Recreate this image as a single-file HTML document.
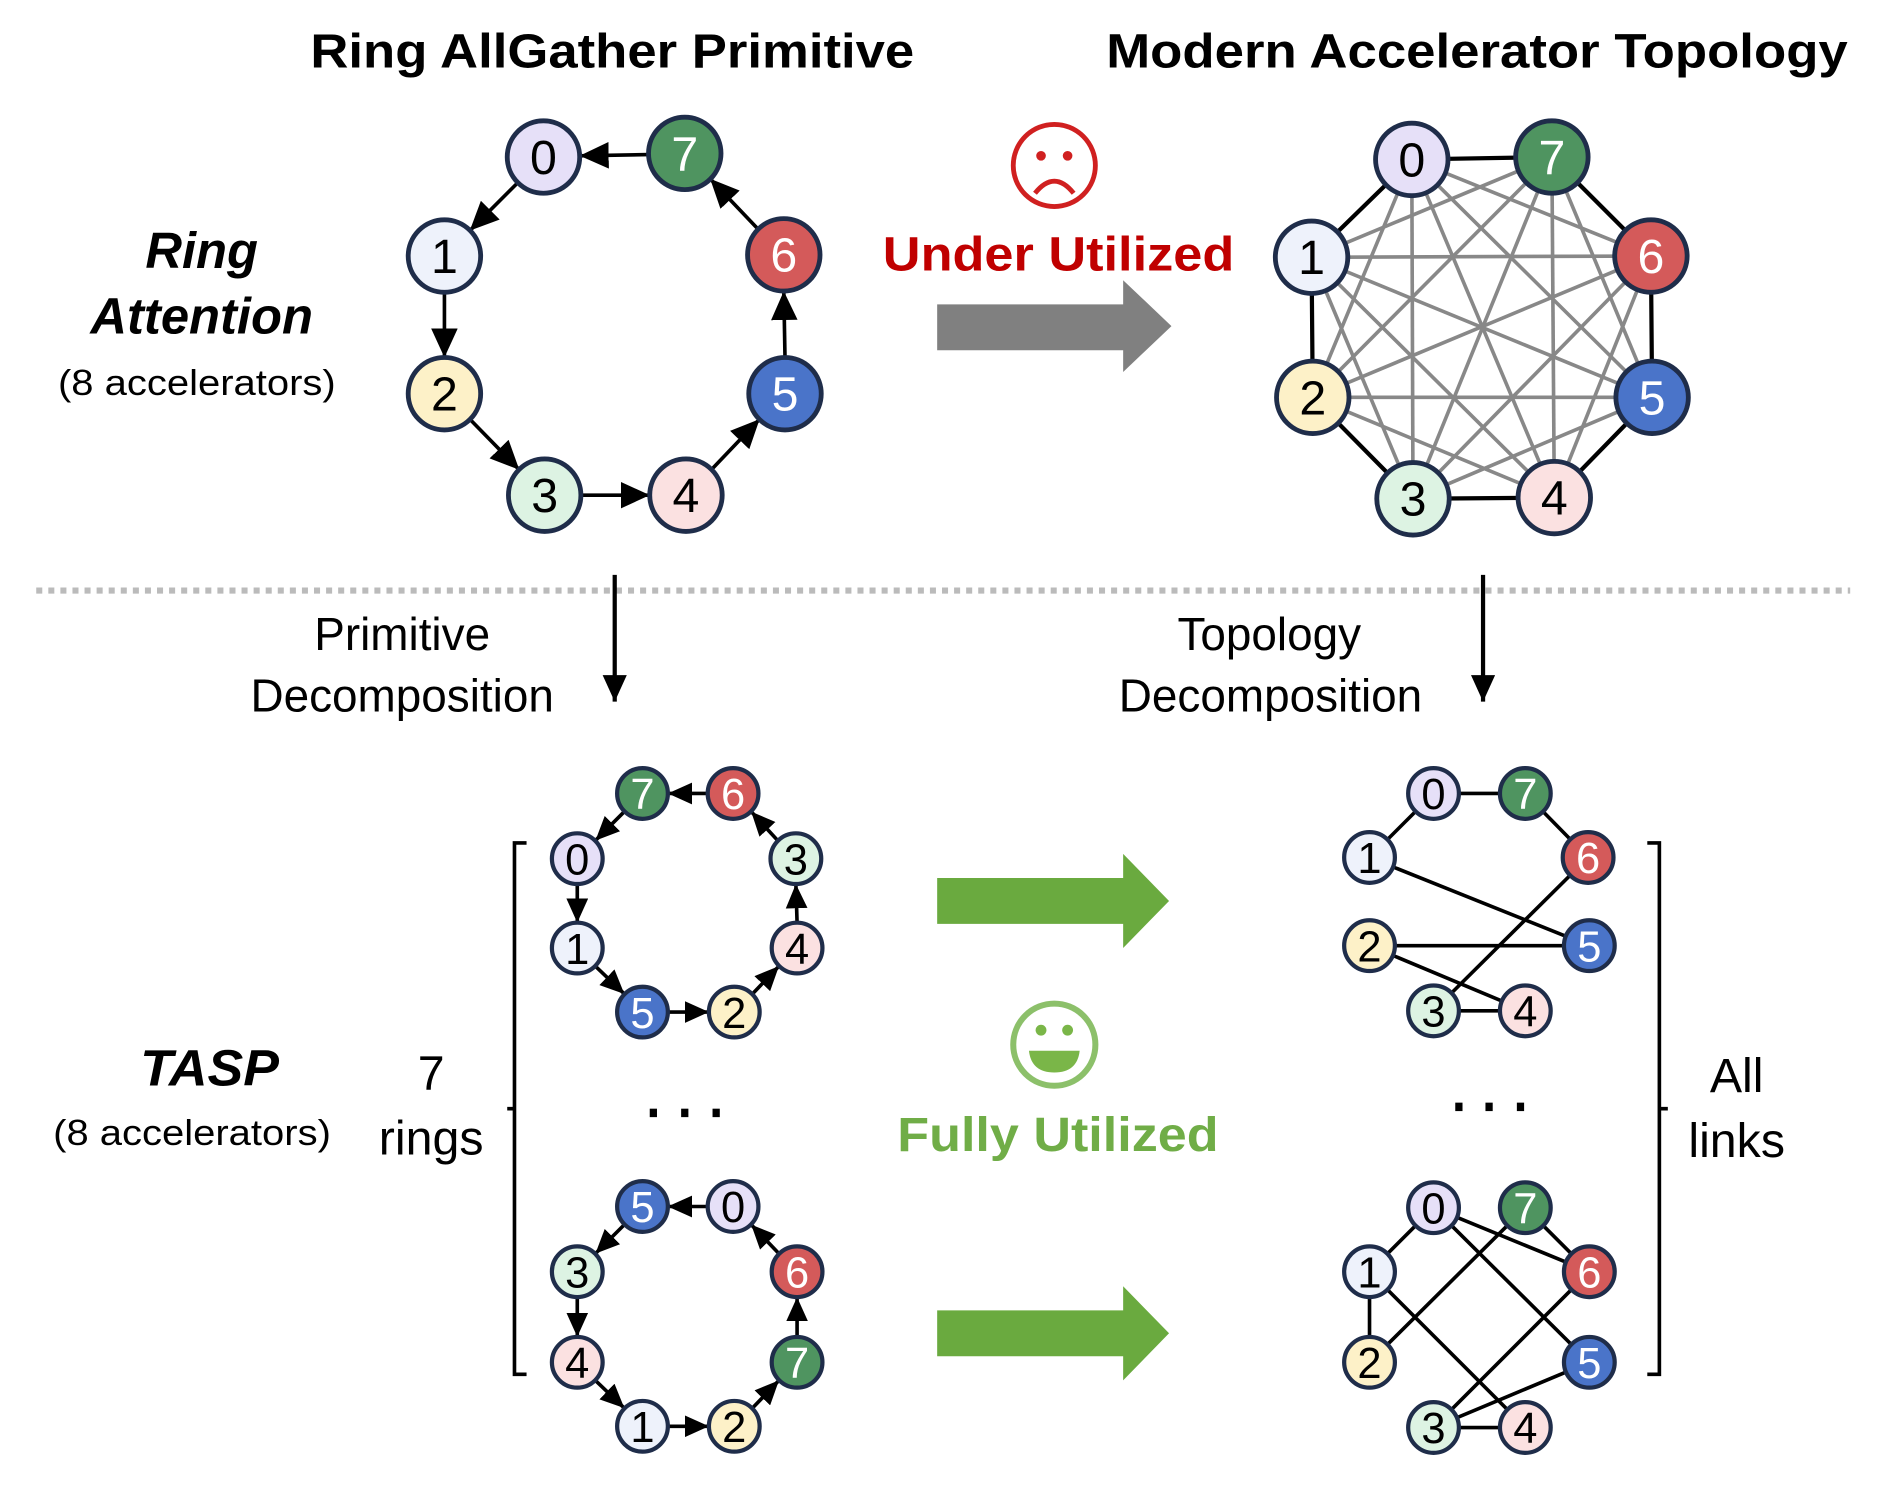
<!DOCTYPE html>
<html><head><meta charset="utf-8"><style>html,body{margin:0;padding:0;background:#fff}svg{display:block}</style></head>
<body>
<svg xmlns="http://www.w3.org/2000/svg" width="1884" height="1496" viewBox="0 0 1560 1238.7" font-family="Liberation Sans, Arial, sans-serif">
<defs>
<marker id="ab" markerUnits="userSpaceOnUse" markerWidth="24" markerHeight="22" refX="24" refY="11" orient="auto"><path d="M0,0 L24,11 L0,22 z" fill="#000"/></marker>
<marker id="as" markerUnits="userSpaceOnUse" markerWidth="20" markerHeight="18" refX="20" refY="9" orient="auto"><path d="M0,0 L20,9 L0,18 z" fill="#000"/></marker>
<marker id="ad" markerUnits="userSpaceOnUse" markerWidth="22" markerHeight="20" refX="22" refY="10" orient="auto"><path d="M0,0 L22,10 L0,20 z" fill="#000"/></marker>
</defs>
<rect width="1560" height="1239" fill="#fff"/>

<text x="257" y="56" font-size="40" font-weight="bold" textLength="500" lengthAdjust="spacingAndGlyphs">Ring AllGather Primitive</text>
<text x="916" y="56" font-size="40" font-weight="bold" textLength="614" lengthAdjust="spacingAndGlyphs">Modern Accelerator Topology</text>

<text x="167" y="222" font-size="42" font-weight="bold" font-style="italic" text-anchor="middle">Ring</text>
<text x="167" y="276" font-size="42" font-weight="bold" font-style="italic" text-anchor="middle">Attention</text>
<text x="48" y="327" font-size="30" textLength="230" lengthAdjust="spacingAndGlyphs">(8 accelerators)</text>
<text x="116" y="899" font-size="42" font-weight="bold" font-style="italic" textLength="115" lengthAdjust="spacingAndGlyphs">TASP</text>
<text x="44" y="948" font-size="30" textLength="230" lengthAdjust="spacingAndGlyphs">(8 accelerators)</text>
<text x="357" y="902" font-size="40" text-anchor="middle">7</text>
<text x="357" y="956" font-size="40" text-anchor="middle">rings</text>

<g stroke="#000" stroke-width="3" fill="none" marker-end="url(#ab)">
<line x1="537" y1="128" x2="480" y2="129"/>
<line x1="429" y1="151" x2="389" y2="191"/>
<line x1="368" y1="242" x2="368" y2="296"/>
<line x1="389" y1="347" x2="430" y2="389"/>
<line x1="481" y1="410" x2="538" y2="410"/>
<line x1="589" y1="389" x2="629" y2="347"/>
<line x1="650" y1="296" x2="649" y2="241"/>
<line x1="628" y1="190" x2="588" y2="148"/>
</g>
<g stroke="#1f2d4a" stroke-width="4">
<circle cx="450" cy="130" r="30" fill="#e6e0f8"/><circle cx="368" cy="212" r="30" fill="#eef2fb"/>
<circle cx="368" cy="326" r="30" fill="#fdf1c8"/><circle cx="451" cy="410" r="30" fill="#ddf3e3"/>
<circle cx="568" cy="410" r="30" fill="#fbe1e1"/><circle cx="650" cy="326" r="30" fill="#4a74c9"/>
<circle cx="649" cy="211" r="30" fill="#d45a5a"/><circle cx="567" cy="127" r="30" fill="#4f9460"/>
</g>
<g font-size="40" text-anchor="middle">
<text x="450" y="144">0</text><text x="368" y="226">1</text><text x="368" y="340">2</text><text x="451" y="424">3</text>
<text x="568" y="424">4</text><text x="650" y="340" fill="#fff">5</text><text x="649" y="225" fill="#fff">6</text><text x="567" y="141" fill="#fff">7</text>
</g>

<circle cx="873" cy="137" r="34" fill="none" stroke="#d02020" stroke-width="4"/>
<circle cx="862" cy="129" r="4" fill="#d02020"/><circle cx="884" cy="129" r="4" fill="#d02020"/>
<path d="M857,160 Q873,140 889,160" fill="none" stroke="#d02020" stroke-width="4"/>
<text x="731" y="224" font-size="40" font-weight="bold" fill="#c00000" textLength="291" lengthAdjust="spacingAndGlyphs">Under Utilized</text>
<path d="M776,252 L930,252 L930,232 L970,270 L930,308 L930,290 L776,290 z" fill="#808080"/>

<g stroke="#888" stroke-width="3">
<line x1="1169" y1="132" x2="1367" y2="212"/><line x1="1169" y1="132" x2="1368" y2="329"/><line x1="1169" y1="132" x2="1287" y2="412"/><line x1="1169" y1="132" x2="1170" y2="413"/><line x1="1169" y1="132" x2="1087" y2="329"/>
<line x1="1285" y1="130" x2="1368" y2="329"/><line x1="1285" y1="130" x2="1287" y2="412"/><line x1="1285" y1="130" x2="1170" y2="413"/><line x1="1285" y1="130" x2="1087" y2="329"/><line x1="1285" y1="130" x2="1086" y2="213"/>
<line x1="1367" y1="212" x2="1287" y2="412"/><line x1="1367" y1="212" x2="1170" y2="413"/><line x1="1367" y1="212" x2="1087" y2="329"/><line x1="1367" y1="212" x2="1086" y2="213"/>
<line x1="1368" y1="329" x2="1170" y2="413"/><line x1="1368" y1="329" x2="1087" y2="329"/><line x1="1368" y1="329" x2="1086" y2="213"/>
<line x1="1287" y1="412" x2="1087" y2="329"/><line x1="1287" y1="412" x2="1086" y2="213"/>
<line x1="1170" y1="413" x2="1086" y2="213"/>
</g>
<polygon points="1169,132 1285,130 1367,212 1368,329 1287,412 1170,413 1087,329 1086,213" fill="none" stroke="#000" stroke-width="3.5"/>
<g stroke="#1f2d4a" stroke-width="4">
<circle cx="1169" cy="132" r="30" fill="#e6e0f8"/><circle cx="1086" cy="213" r="30" fill="#eef2fb"/>
<circle cx="1087" cy="329" r="30" fill="#fdf1c8"/><circle cx="1170" cy="413" r="30" fill="#ddf3e3"/>
<circle cx="1287" cy="412" r="30" fill="#fbe1e1"/><circle cx="1368" cy="329" r="30" fill="#4a74c9"/>
<circle cx="1367" cy="212" r="30" fill="#d45a5a"/><circle cx="1285" cy="130" r="30" fill="#4f9460"/>
</g>
<g font-size="40" text-anchor="middle">
<text x="1169" y="146">0</text><text x="1086" y="227">1</text><text x="1087" y="343">2</text><text x="1170" y="427">3</text>
<text x="1287" y="426">4</text><text x="1368" y="343" fill="#fff">5</text><text x="1367" y="226" fill="#fff">6</text><text x="1285" y="144" fill="#fff">7</text>
</g>

<line x1="30" y1="489" x2="1532" y2="489" stroke="#bbb" stroke-width="5" stroke-dasharray="5,5"/>

<line x1="509" y1="476" x2="509" y2="581" stroke="#000" stroke-width="3.5" marker-end="url(#ad)"/>
<line x1="1228" y1="476" x2="1228" y2="581" stroke="#000" stroke-width="3.5" marker-end="url(#ad)"/>
<g font-size="38" text-anchor="middle">
<text x="333" y="538">Primitive</text><text x="333" y="589">Decomposition</text>
<text x="1051" y="538">Topology</text><text x="1052" y="589">Decomposition</text>
</g>

<path d="M436,698 L426,698 L426,1138 L436,1138 M426,918 L420,918" fill="none" stroke="#000" stroke-width="3"/>
<path d="M1364,698 L1374,698 L1374,1138 L1364,1138 M1374,918 L1381,918" fill="none" stroke="#000" stroke-width="3"/>
<text x="1438" y="904" font-size="40" text-anchor="middle">All</text>
<text x="1438" y="958" font-size="40" text-anchor="middle">links</text>

<g fill="#000"><rect x="538" y="918" width="6" height="7"/><rect x="564" y="918" width="6" height="7"/><rect x="590" y="918" width="6" height="7"/>
<rect x="1205" y="913" width="6" height="7"/><rect x="1230" y="913" width="6" height="7"/><rect x="1256" y="913" width="6" height="7"/></g>

<g stroke="#000" stroke-width="3" marker-end="url(#as)">
<line x1="586" y1="657" x2="553" y2="657"/><line x1="517" y1="672" x2="493" y2="696"/>
<line x1="478" y1="732" x2="478" y2="764"/><line x1="493" y1="800" x2="517" y2="823"/>
<line x1="553" y1="838" x2="587" y2="838"/><line x1="623" y1="823" x2="645" y2="800"/>
<line x1="660" y1="764" x2="659" y2="732"/><line x1="644" y1="696" x2="622" y2="672"/>
</g>
<g stroke="#1f2d4a" stroke-width="3.5">
<circle cx="532" cy="657" r="21" fill="#4f9460"/><circle cx="607" cy="657" r="21" fill="#d45a5a"/>
<circle cx="659" cy="711" r="21" fill="#ddf3e3"/><circle cx="660" cy="785" r="21" fill="#fbe1e1"/>
<circle cx="608" cy="838" r="21" fill="#fdf1c8"/><circle cx="532" cy="838" r="21" fill="#4a74c9"/>
<circle cx="478" cy="785" r="21" fill="#eef2fb"/><circle cx="478" cy="711" r="21" fill="#e6e0f8"/>
</g>
<g font-size="36" text-anchor="middle">
<text x="532" y="670" fill="#fff">7</text><text x="607" y="670" fill="#fff">6</text><text x="659" y="724">3</text><text x="660" y="798">4</text>
<text x="608" y="851">2</text><text x="532" y="851" fill="#fff">5</text><text x="478" y="798">1</text><text x="478" y="724">0</text>
</g>

<g stroke="#000" stroke-width="3" marker-end="url(#as)">
<line x1="586" y1="999" x2="553" y2="999"/><line x1="517" y1="1014" x2="493" y2="1038"/>
<line x1="478" y1="1074" x2="478" y2="1107"/><line x1="493" y1="1143" x2="517" y2="1166"/>
<line x1="553" y1="1181" x2="587" y2="1181"/><line x1="623" y1="1166" x2="645" y2="1143"/>
<line x1="660" y1="1107" x2="660" y2="1074"/><line x1="645" y1="1038" x2="622" y2="1014"/>
</g>
<g stroke="#1f2d4a" stroke-width="3.5">
<circle cx="532" cy="999" r="21" fill="#4a74c9"/><circle cx="607" cy="999" r="21" fill="#e6e0f8"/>
<circle cx="660" cy="1053" r="21" fill="#d45a5a"/><circle cx="660" cy="1128" r="21" fill="#4f9460"/>
<circle cx="608" cy="1181" r="21" fill="#fdf1c8"/><circle cx="532" cy="1181" r="21" fill="#eef2fb"/>
<circle cx="478" cy="1128" r="21" fill="#fbe1e1"/><circle cx="478" cy="1053" r="21" fill="#ddf3e3"/>
</g>
<g font-size="36" text-anchor="middle">
<text x="532" y="1012" fill="#fff">5</text><text x="607" y="1012">0</text><text x="660" y="1066" fill="#fff">6</text><text x="660" y="1141" fill="#fff">7</text>
<text x="608" y="1194">2</text><text x="532" y="1194">1</text><text x="478" y="1141">4</text><text x="478" y="1066">3</text>
</g>

<path d="M776,727 L930,727 L930,707 L968,746 L930,785 L930,765 L776,765 z" fill="#6aaa3f"/>
<path d="M776,1085 L930,1085 L930,1065 L968,1104 L930,1143 L930,1123 L776,1123 z" fill="#6aaa3f"/>

<circle cx="873" cy="865" r="34" fill="none" stroke="#8cc06a" stroke-width="5"/>
<circle cx="862" cy="853" r="4.5" fill="#7ab648"/><circle cx="884" cy="853" r="4.5" fill="#7ab648"/>
<path d="M852,870 L894,870 Q892,888 873,888 Q854,888 852,870 z" fill="#7ab648"/>
<text x="743" y="953" font-size="40" font-weight="bold" fill="#70ad47" textLength="266" lengthAdjust="spacingAndGlyphs">Fully Utilized</text>

<g stroke="#000" stroke-width="3">
<line x1="1187" y1="657" x2="1263" y2="657"/><line x1="1263" y1="657" x2="1315" y2="710"/>
<line x1="1187" y1="657" x2="1134" y2="710"/><line x1="1134" y1="710" x2="1316" y2="783"/>
<line x1="1315" y1="710" x2="1187" y2="837"/><line x1="1134" y1="783" x2="1316" y2="783"/>
<line x1="1134" y1="783" x2="1263" y2="837"/><line x1="1187" y1="837" x2="1263" y2="837"/>
</g>
<g stroke="#1f2d4a" stroke-width="3.5">
<circle cx="1187" cy="657" r="21" fill="#e6e0f8"/><circle cx="1263" cy="657" r="21" fill="#4f9460"/>
<circle cx="1315" cy="710" r="21" fill="#d45a5a"/><circle cx="1316" cy="783" r="21" fill="#4a74c9"/>
<circle cx="1263" cy="837" r="21" fill="#fbe1e1"/><circle cx="1187" cy="837" r="21" fill="#ddf3e3"/>
<circle cx="1134" cy="783" r="21" fill="#fdf1c8"/><circle cx="1134" cy="710" r="21" fill="#eef2fb"/>
</g>
<g font-size="36" text-anchor="middle">
<text x="1187" y="670">0</text><text x="1263" y="670" fill="#fff">7</text><text x="1315" y="723" fill="#fff">6</text><text x="1316" y="796" fill="#fff">5</text>
<text x="1263" y="850">4</text><text x="1187" y="850">3</text><text x="1134" y="796">2</text><text x="1134" y="723">1</text>
</g>

<g stroke="#000" stroke-width="3">
<line x1="1187" y1="1000" x2="1134" y2="1053"/><line x1="1187" y1="1000" x2="1316" y2="1053"/>
<line x1="1263" y1="1000" x2="1316" y2="1053"/><line x1="1187" y1="1000" x2="1316" y2="1128"/>
<line x1="1263" y1="1000" x2="1134" y2="1128"/><line x1="1134" y1="1053" x2="1134" y2="1128"/>
<line x1="1134" y1="1053" x2="1263" y2="1182"/><line x1="1316" y1="1053" x2="1187" y2="1182"/>
<line x1="1316" y1="1128" x2="1187" y2="1182"/><line x1="1187" y1="1182" x2="1263" y2="1182"/>
</g>
<g stroke="#1f2d4a" stroke-width="3.5">
<circle cx="1187" cy="1000" r="21" fill="#e6e0f8"/><circle cx="1263" cy="1000" r="21" fill="#4f9460"/>
<circle cx="1316" cy="1053" r="21" fill="#d45a5a"/><circle cx="1316" cy="1128" r="21" fill="#4a74c9"/>
<circle cx="1263" cy="1182" r="21" fill="#fbe1e1"/><circle cx="1187" cy="1182" r="21" fill="#ddf3e3"/>
<circle cx="1134" cy="1128" r="21" fill="#fdf1c8"/><circle cx="1134" cy="1053" r="21" fill="#eef2fb"/>
</g>
<g font-size="36" text-anchor="middle">
<text x="1187" y="1013">0</text><text x="1263" y="1013" fill="#fff">7</text><text x="1316" y="1066" fill="#fff">6</text><text x="1316" y="1141" fill="#fff">5</text>
<text x="1263" y="1195">4</text><text x="1187" y="1195">3</text><text x="1134" y="1141">2</text><text x="1134" y="1066">1</text>
</g>
</svg>
</body></html>
